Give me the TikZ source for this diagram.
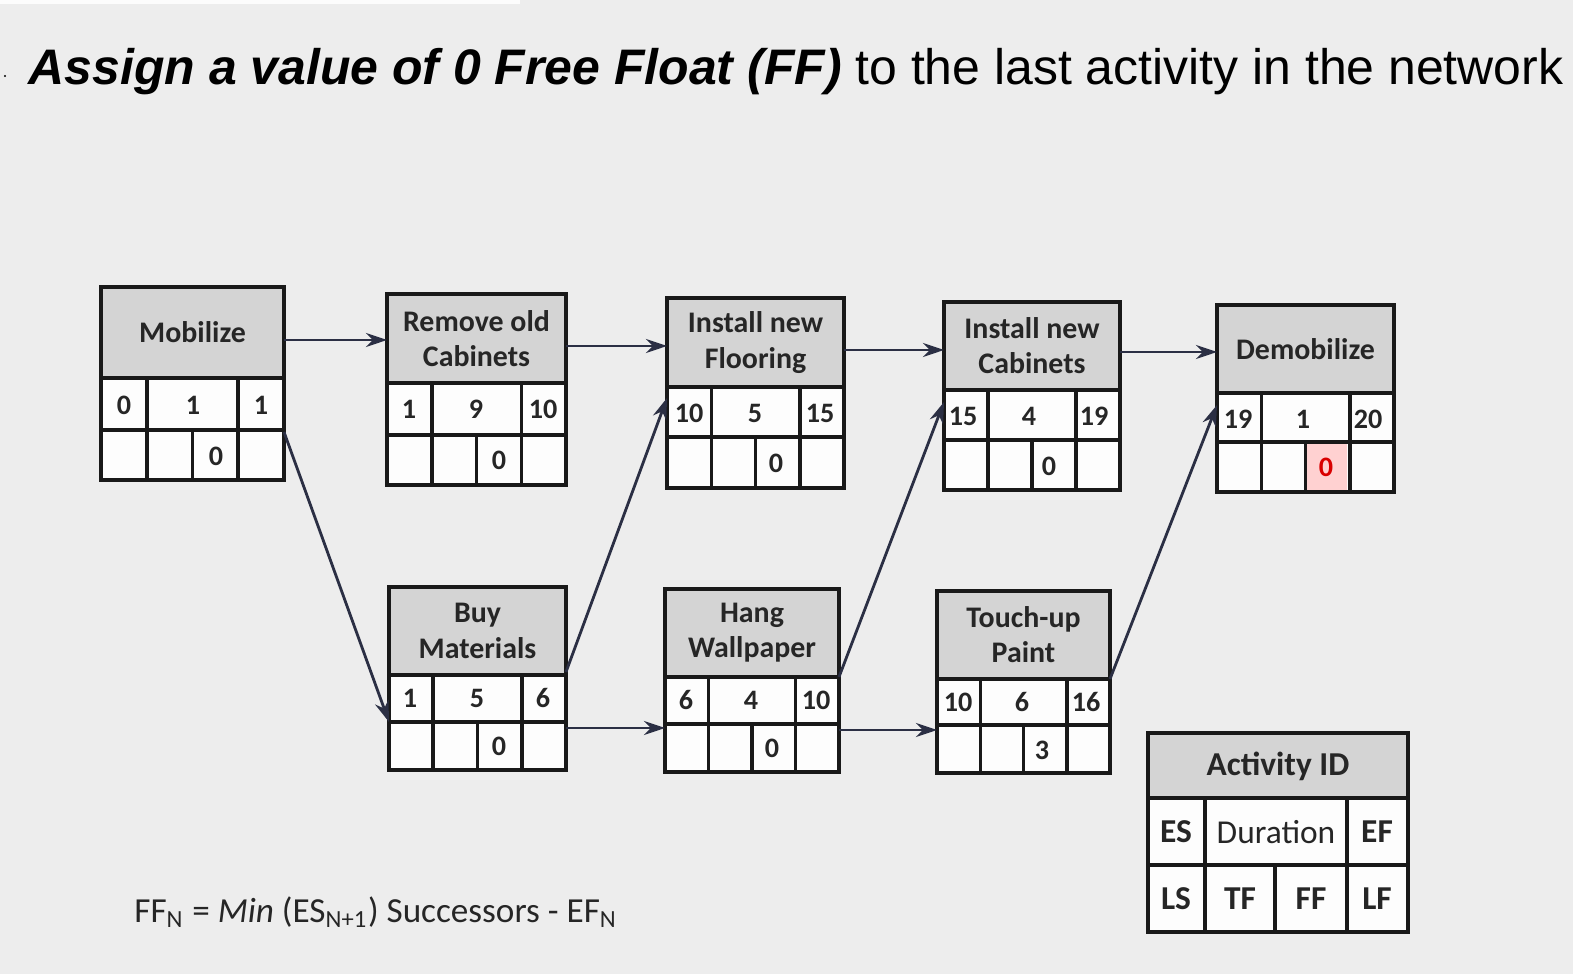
\documentclass[tikz,border=0pt]{standalone}
\usepackage{fontspec}
\setmainfont{Carlito}
\newfontfamily\titlefont{Liberation Sans}
\usetikzlibrary{arrows.meta}
\definecolor{bg}{HTML}{EDEDED}
\definecolor{hd}{HTML}{D4D4D4}
\definecolor{ln}{HTML}{2B2F44}
\tikzset{box/.style={draw=black!90,line width=1pt},
 conn/.style={draw=ln,line width=0.8pt,-{Stealth[length=6pt,width=4pt]}},
 num/.style={font=\fontsize{8}{9}\selectfont\bfseries,text=black!85}}
\newcommand\actbox[9]{% name, x1, x2, y1, y2, y3, y4, title, extra
 \pgfmathsetmacro\xa{#2}\pgfmathsetmacro\xd{#3}%
 \pgfmathsetmacro\xb{#2+(#3-#2)*0.25}\pgfmathsetmacro\xc{#2+(#3-#2)*0.5}\pgfmathsetmacro\xe{#2+(#3-#2)*0.75}%
 \fill[hd] (\xa,#4) rectangle (\xd,#5);
 \fill[white!92!bg] (\xa,#5) rectangle (\xd,#7);
 \draw[box] (\xa,#4) rectangle (\xd,#7);
 \draw[box] (\xa,#5) -- (\xd,#5) (\xa,#6) -- (\xd,#6) (\xb,#5) -- (\xb,#7) (\xe,#5) -- (\xe,#7) (\xc,#6) -- (\xc,#7);
 \node[font=\fontsize{8.5}{10}\selectfont\bfseries,align=center,text=black!85] (#1-t) at ({(#2+#3)/2},{(#4+#5)/2}) {#8};
 #9
}
\begin{document}
\begin{tikzpicture}[x=0.01cm,y=-0.01cm]
\useasboundingbox (0,0) rectangle (1573,974);
\fill[bg] (0,0) rectangle (1573,974);
\fill[white!85!bg] (0,0) rectangle (520,4);
\node[anchor=west,inner sep=0pt,font=\titlefont\fontsize{14.2}{17}\selectfont] (title) at (28,72) {\textbf{\textit{Assign a value of 0 Free Float (FF)}} to the last activity in the network};
\fill (5,76) circle (1.2);
% boxes
\actbox{mob}{101}{284}{287}{378}{430}{480}{Mobilize}{}
\actbox{rem}{387}{566}{294}{383}{435}{485}{Remove old\\Cabinets}{}
\actbox{flo}{667}{844}{298}{387}{437}{488}{Install new\\Flooring}{}
\actbox{cab}{944}{1120}{302}{390}{440}{490}{Install new\\Cabinets}{}
\actbox{dem}{1217}{1394}{305}{393}{442}{492}{Demobilize}{}
\actbox{buy}{389}{566}{587}{675}{722}{770}{Buy\\Materials}{}
\actbox{wal}{665}{839}{589}{677}{724}{772}{Hang\\Wallpaper}{}
\actbox{tou}{937}{1110}{591}{679}{725}{773}{Touch-up\\Paint}{}
\fill[red!18] (1306,444) rectangle (1347,490);
\draw[box] (1305.5,442) rectangle (1349.75,492);
% numbers
\foreach \x/\y/\t in {124/405/0,193/405/1,261/405/1,216/456/0,
 409/409/1,476/409/9,543/409/10,499/460/0,
 689/413/10,755/413/5,820/413/15,776/463/0,
 963/416/15,1029/416/4,1094/416/19,1049/466/0,
 1238/419/19,1303/419/1,1368/419/20,
 410/698/1,477/698/5,543/698/6,499/746/0,
 686/700/6,751/700/4,816/700/10,772/748/0,
 958/702/10,1022/702/6,1086/702/16,1042/750/3}
 \node[num] at (\x,\y) {\t};
\node[num,text=red!85!black] (redff) at (1326,467) {0};
% connectors
\draw[conn] (284,340) -- (387,340);
\draw[conn] (284,432) -- (389,722);
\draw[conn] (566,346) -- (667,346);
\draw[conn] (566,672) -- (667,398);
\draw[conn] (566,728) -- (665,728);
\draw[conn] (844,350) -- (944,350);
\draw[conn] (839,677) -- (944,402);
\draw[conn] (839,730) -- (937,730);
\draw[conn] (1120,352) -- (1217,352);
\draw[conn] (1110,679) -- (1217,405);
% legend
\fill[hd] (1148,733) rectangle (1408,798);
\fill[white!92!bg] (1148,798) rectangle (1408,932);
\draw[box] (1148,733) rectangle (1408,932);
\draw[box] (1148,798) -- (1408,798) (1148,865) -- (1408,865) (1205,798) -- (1205,932) (1347,798) -- (1347,932) (1275,865) -- (1275,932);
\node[font=\fontsize{9.5}{11}\selectfont\bfseries,text=black!85] (leg) at (1278,766) {Activity ID};
\foreach \x/\y/\t in {1176/832/\textbf{ES},1276/832/Duration,1377/832/\textbf{EF},1176/899/\textbf{LS},1240/899/\textbf{TF},1311/899/\textbf{FF},1377/899/\textbf{LF}}
 \node[font=\fontsize{9.5}{11}\selectfont,text=black!85] at (\x,\y) {\t};
\node[anchor=west,font=\fontsize{10}{12}\selectfont,text=black!85] (formula) at (122,912) {FF\textsubscript{N} = \textit{Min} (ES\textsubscript{N+1}) Successors - EF\textsubscript{N}};
\end{tikzpicture}
\end{document}
